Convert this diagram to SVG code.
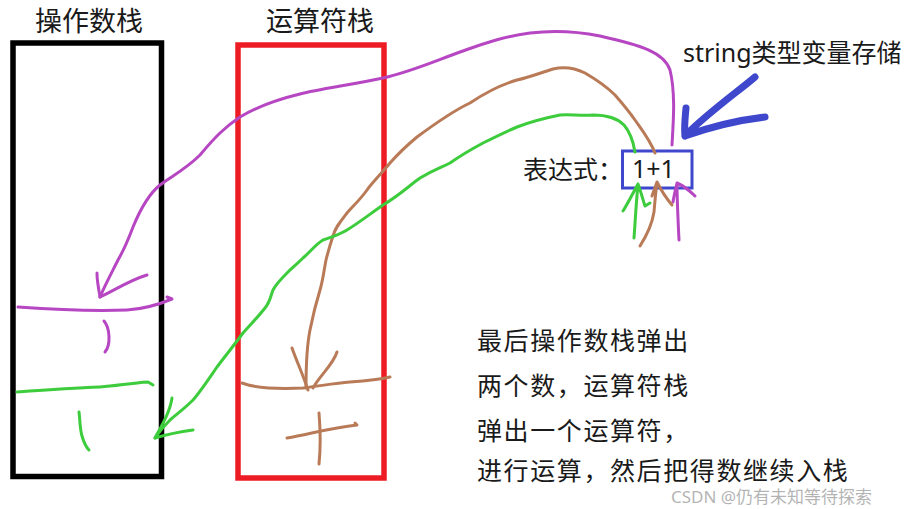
<svg xmlns="http://www.w3.org/2000/svg" width="916" height="509" viewBox="0 0 916 509">
<style>
text{font-family:"Noto Sans","Noto Sans CJK SC",sans-serif;fill:#1a1a1a}
.t{font-size:27px}
.p{font-size:25px;letter-spacing:1.6px}
.s{fill:none;stroke-linecap:round;stroke-linejoin:round}
.pu{stroke:#b646c2;stroke-width:3}
.br{stroke:#b97a57;stroke-width:3}
.gr{stroke:#3ccc3c;stroke-width:3}
.bl{stroke:#3f48cc;stroke-width:7}
</style>
<rect width="916" height="509" fill="#fff"/>
<g id="operand-stack">
<rect x="13" y="43" width="148.5" height="433.5" fill="none" stroke="#000" stroke-width="5.5"/>
<text class="t" x="89" y="31" text-anchor="middle">操作数栈</text>
</g>
<g id="operator-stack">
<rect x="238" y="45" width="146" height="433" fill="none" stroke="#ed1c24" stroke-width="5.5"/>
<text class="t" x="320" y="31" text-anchor="middle">运算符栈</text>
</g>
<g id="expression">
<text x="523" y="179" style="font-size:25px">表达式：</text>
<rect x="622.5" y="151" width="69.5" height="37" fill="none" stroke="#3f48cc" stroke-width="3"/>
<text x="632" y="178" style="font-size:25px">1+1</text>
</g>
<g id="string-label">
<text x="683" y="62" style="font-size:25px">string类型变量存储</text>
</g>
<g id="explanation">
<text class="p" x="477" y="350">最后操作数栈弹出</text>
<text class="p" x="477" y="395">两个数，运算符栈</text>
<text class="p" x="477" y="440">弹出一个运算符，</text>
<text class="p" x="477" y="480">进行运算，然后把得数继续入栈</text>
</g>
<g id="connectors">
<path class="s pu" d="M672,145 C673,125 676,95 670,70 C664,52 640,45 600,36 C575,31 555,30 530,33 C500,37 480,45 460,52 C430,63 410,72 383,78 C350,85 320,89 300,94 C275,100 255,108 240,117 C225,127 215,137 200,155 C185,170 170,177 160,185 C150,193 140,210 133,227 C128,240 125,248 118,260 C112,272 105,285 100,297"/>
<path class="s pu" d="M97,273 C97,282 99,290 100,297 C115,290 130,280 147,275"/>
<path class="s pu" d="M18,307 C60,310 100,311 127,310 C145,309 160,304 172,299 L167,297"/>
<path class="s pu" d="M104,321 C110,328 111,345 105,352"/>
<path class="s pu" d="M679,240 C678,220 677,200 677,183 M673,202 C674,195 676,188 677,183 C684,186 690,191 695,196"/>
<path class="s br" d="M655,153 C650,140 642,130 635,120 C628,110 622,103 615,95 C605,85 597,80 585,73 C575,68 565,66 553,69 C540,73 530,77 517,80 C500,85 485,93 470,103 C455,110 440,120 417,137 C405,147 397,155 390,163 C380,175 372,183 367,190 C360,200 352,207 347,213 C340,222 335,228 333,236 C330,245 328,252 326,260 C324,270 323,280 320,290 C316,303 313,315 310,330 C307,345 306,365 306,388"/>
<path class="s br" d="M292,348 C297,362 303,375 308,390 M313,388 C320,375 333,365 337,352"/>
<path class="s br" d="M242,383 C255,388 280,389 303,388 C320,386 335,383 350,382 C365,381 378,380 390,377"/>
<path class="s br" d="M287,438 C310,434 330,428 357,425 L355,423"/>
<path class="s br" d="M319,413 C320,425 321,445 319,464"/>
<path class="s br" d="M640,246 C647,235 652,225 654,212 C655,200 656,190 657,182 M652,196 C654,190 656,185 657,182 C661,190 666,198 672,205"/>
<path class="s gr" d="M635,152 C633,140 630,132 624,125 C617,118 605,115 593,115 C580,116 570,114 560,115 C545,118 530,122 517,127 C505,132 495,137 483,143 C470,150 460,156 450,163 C440,168 433,170 420,178 C410,185 400,195 383,205 C370,214 360,222 347,230 C337,236 328,238 323,240 C316,244 310,252 303,258 C297,264 292,268 288,272 C282,278 276,284 273,290 C270,298 270,302 265,308 C258,317 250,325 243,333 C235,344 226,355 217,367 C208,380 200,392 193,400 C185,408 177,414 170,420 C164,426 159,432 155,438"/>
<path class="s gr" d="M172,398 C170,412 162,425 155,438 C165,435 178,432 193,430"/>
<path class="s gr" d="M17,392 C45,390 75,388 100,387 C117,386 130,383 148,382 L153,385"/>
<path class="s gr" d="M79,412 C80,420 80,430 82,436 C84,443 86,447 89,450"/>
<path class="s gr" d="M634,238 C635,225 636,205 638,184 M623,211 C628,203 633,193 638,184 C641,192 643,200 645,206 L650,203"/>
<path class="s bl" d="M755,77 C740,90 705,115 685,136 M686,108 C685,118 684,128 685,136 C710,127 740,120 765,117"/>
</g>
<text x="671" y="503" style="font-size:17px;fill:#9a9a9a;fill-opacity:0.75">CSDN @仍有未知等待探索</text>
</svg>
